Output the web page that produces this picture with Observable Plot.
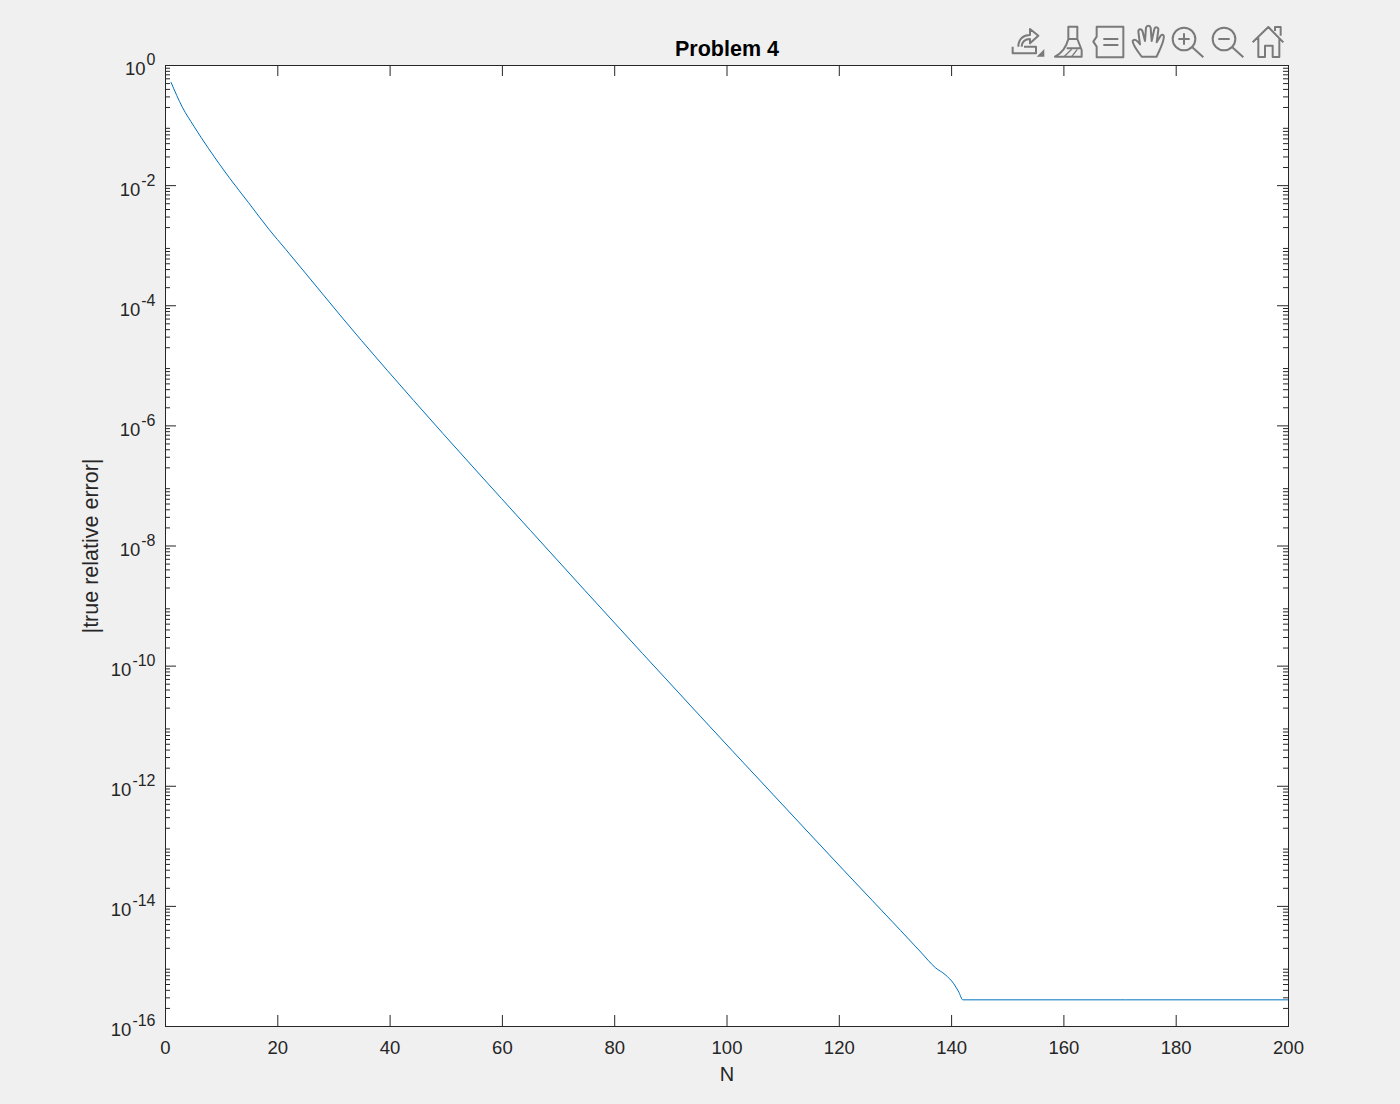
<!DOCTYPE html>
<html><head><meta charset="utf-8">
<script src="https://cdn.jsdelivr.net/npm/d3@7"></script>
<script src="https://cdn.jsdelivr.net/npm/@observablehq/plot@0.6"></script>
<style>
html,body{margin:0;padding:0;background:#f0f0f0;width:1400px;height:1104px;overflow:hidden}
#c{position:relative;width:1400px;height:1104px}
svg.plot{display:block;background:transparent}
#tb{position:absolute;left:1000px;top:15px}
</style></head><body><div id="c"></div>
<script>
const N      = [1,3,5.05,7.7,11.3,14.8,18.4,21.4,34.9,44.2,65,74.7,95.3,100.9,114.9,120.8,130.9,134.5,137.1,138.9,140.4,141.3,142,200];
const logErr = [-0.283,-0.694,-1.01,-1.387,-1.86,-2.285,-2.725,-3.06,-4.579,-5.578,-7.742,-8.741,-10.84,-11.405,-12.81,-13.40,-14.4,-14.76,-15.02,-15.14,-15.29,-15.43,-15.556,-15.556];
const series = N.map((n,i)=>({n,e:Math.pow(10,logErr[i])}));
const xTicks=[0,20,40,60,80,100,120,140,160,180,200];
const exps=[0,-2,-4,-6,-8,-10,-12,-14,-16];
const majors=exps.map(e=>Math.pow(10,e));
const minors=[];
for(let e=-16;e<0;e++)for(let m=2;m<=9;m++)minors.push(m*Math.pow(10,e));
const titleText="Problem 4", xLabel="N", yLabel="|true relative error|";
const W=1400,H=1104,ml=165,mr=112,mt=65,mb=78;
const pw=W-ml-mr,ph=H-mt-mb;
const ink="#262626";
const chart=Plot.plot({width:W,height:H,marginLeft:ml,marginRight:mr,marginTop:mt,marginBottom:mb,
 style:{background:"transparent",fontFamily:"'Liberation Sans',Arial,sans-serif"},
 x:{domain:[0,200],axis:null},
 y:{type:"log",domain:[1e-16,1],axis:null},
 marks:[
  Plot.frame({fill:"white",stroke:"none"}),
  Plot.line(series,{x:"n",y:"e",stroke:"#0072BD",strokeWidth:1,curve:"monotone-x"}),
  Plot.ruleY(majors,{stroke:ink,insetRight:pw-11}),
  Plot.ruleY(majors,{stroke:ink,insetLeft:pw-11}),
  Plot.ruleY(minors,{stroke:ink,insetRight:pw-5}),
  Plot.ruleY(minors,{stroke:ink,insetLeft:pw-5}),
  Plot.ruleX(xTicks,{stroke:ink,insetTop:ph-11}),
  Plot.ruleX(xTicks,{stroke:ink,insetBottom:ph-11}),
  Plot.frame({stroke:ink}),
  Plot.axisX({ticks:xTicks,tickSize:0,tickPadding:14,fontSize:18.5,color:ink,label:null}),
  Plot.axisY({ticks:majors,tickSize:0,tickPadding:10,fontSize:18.5,color:ink,label:null,tickFormat:d=>"10^"+Math.round(Math.log10(d))}),
  Plot.text([titleText],{frameAnchor:"top",dy:-25,fontSize:21.5,fontWeight:"bold",fill:"#000"}),
  Plot.text([xLabel],{frameAnchor:"bottom",dy:54,fontSize:20,fill:ink}),
  Plot.text([yLabel],{frameAnchor:"left",dx:-74,rotate:-90,textAnchor:"middle",fontSize:21.5,fill:ink})
 ]});
d3.select(chart).selectAll("text").each(function(){
  const t=d3.select(this),s=t.text();
  if(!s.startsWith("10^"))return;
  const exp=s.slice(3);
  t.text(null);
  t.append("tspan").attr("dy",4).text("10");
  t.append("tspan").attr("dy",-10).attr("dx",1).attr("font-size",16).text(exp);
});
const c=document.getElementById("c");
c.append(chart);
const tb=document.createElement("div");
tb.innerHTML=`<svg id="tb" width="300" height="60" viewBox="0 0 900 180" fill="none" stroke="#7a7a7a" stroke-width="6" stroke-linejoin="round">
<path d="M38 95V115H108V95H72M55 95C55 72 70 60 90 60V42L115 62L90 85V72C75 72 66 80 65 95"/>
<path d="M110 125H133V102Z" fill="#7a7a7a" stroke="none"/>
<path d="M205 35H232V72L245 105V125H165C190 112 200 92 205 72ZM205 72H232M200 100H245"/>
<path d="M192 125L215 103M215 125L232 103" stroke-width="4"/>
<path d="M290 35H370V127H290V95L280 80L290 65ZM310 72H355M310 90H355"/>
<path d="M425 125C410 105 398 90 398 78C402 70 412 75 420 88L415 50C415 40 425 40 428 50L435 78L438 38C440 30 450 30 452 38L455 78L463 42C466 34 476 36 475 45L470 82L482 62C488 56 494 60 491 70C488 90 478 105 470 125Z"/>
<circle cx="552" cy="72" r="34"/><path d="M577 97L610 127M535 72H569M552 55V89"/>
<circle cx="672" cy="72" r="34"/><path d="M697 97L730 127M655 72H689"/>
<path d="M758 82L805 36L850 82M775 68V126H795V92H818V126H838V68M825 48V36H842V62"/>
</svg>`;
c.append(tb.firstChild);
</script></body></html>
